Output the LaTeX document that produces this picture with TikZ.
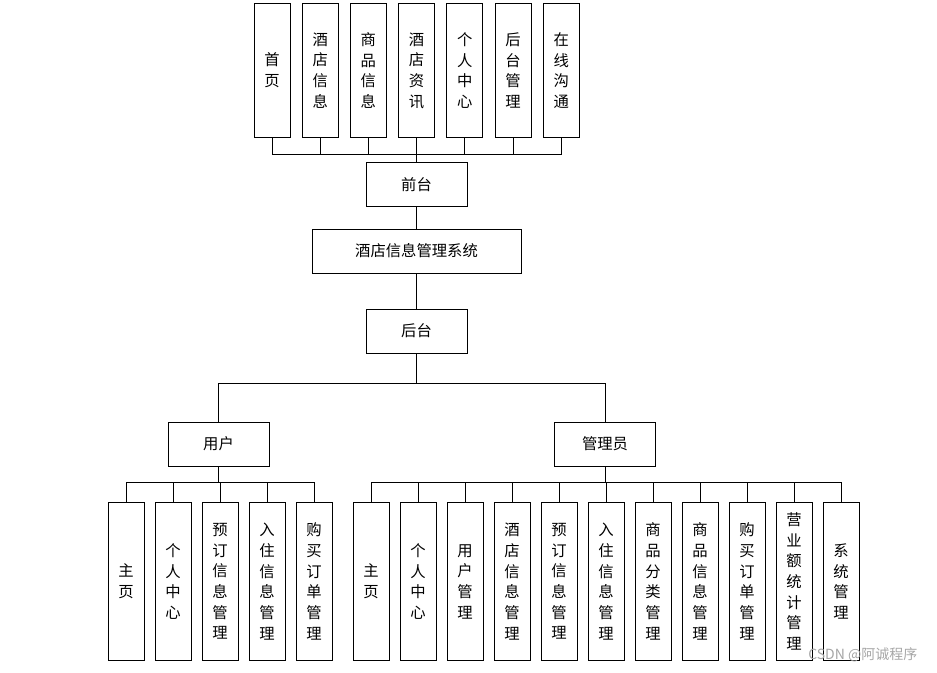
\documentclass[tikz,border=0pt]{standalone}
\usepackage{fontspec}
\newfontfamily\cjk{Noto Sans CJK SC}
\begin{document}
\begin{tikzpicture}[x=0.75pt,y=-0.75pt,
  box/.style={draw,line width=0.6pt,fill=white,inner sep=0pt,font=\cjk\fontsize{11.5}{15.5}\selectfont,align=center},
  vbox/.style={box,minimum width=27pt,minimum height=101pt},
  bbox/.style={box,minimum width=27pt,minimum height=118pt},
  hbox/.style={box,minimum width=75.75pt,minimum height=33pt},
  ln/.style={line width=0.6pt}]
\useasboundingbox (0,0) rectangle (937,673);
% top
\foreach \i/\t in {1/首\\页,2/酒\\店\\信\\息,3/商\\品\\信\\息,4/酒\\店\\资\\讯,5/个\\人\\中\\心,6/后\\台\\管\\理,7/在\\线\\沟\\通}
  \node[vbox] (t\i) at ({272+48.2*(\i-1)},70.5) {\t};
\node[hbox] (qt) at (416.5,184.5) {前台};
\node[box,minimum width=156.75pt,minimum height=33pt] (sys) at (416.5,251) {酒店信息管理系统};
\node[hbox] (ht) at (416.5,331) {后台};
\node[hbox] (yh) at (218.5,444) {用户};
\node[hbox] (gl) at (605,444) {管理员};
\foreach \i in {1,...,7} \draw[ln] (qt.north) -- ++(0,-8) -| (t\i.south);
\draw[ln] (qt.south) -- (sys.north);
\draw[ln] (sys.south) -- (ht.north);
\draw[ln] (ht.south) -- ++(0,30) -| (yh.north);
\draw[ln] (ht.south) -- ++(0,30) -| (gl.north);
\foreach \i/\t in {1/主\\页,2/个\\人\\中\\心,3/预\\订\\信\\息\\管\\理,4/入\\住\\信\\息\\管\\理,5/购\\买\\订\\单\\管\\理}
  {\node[bbox] (u\i) at ({126+47*(\i-1)},581.5) {\t};
   \draw[ln] (yh.south) -- ++(0,16) -| (u\i.north);}
\foreach \i/\t in {1/主\\页,2/个\\人\\中\\心,3/用\\户\\管\\理,4/酒\\店\\信\\息\\管\\理,5/预\\订\\信\\息\\管\\理,6/入\\住\\信\\息\\管\\理,7/商\\品\\分\\类\\管\\理,8/商\\品\\信\\息\\管\\理,9/购\\买\\订\\单\\管\\理,10/营\\业\\额\\统\\计\\管\\理,11/系\\统\\管\\理}
  {\node[bbox] (a\i) at ({371+47*(\i-1)},581.5) {\t};
   \draw[ln] (gl.south) -- ++(0,16) -| (a\i.north);}
\node[font=\cjk\fontsize{10.5}{12}\selectfont,text=black!35,anchor=east] (wm) at (922,655) {CSDN @阿诚程序};
\end{tikzpicture}
\end{document}
